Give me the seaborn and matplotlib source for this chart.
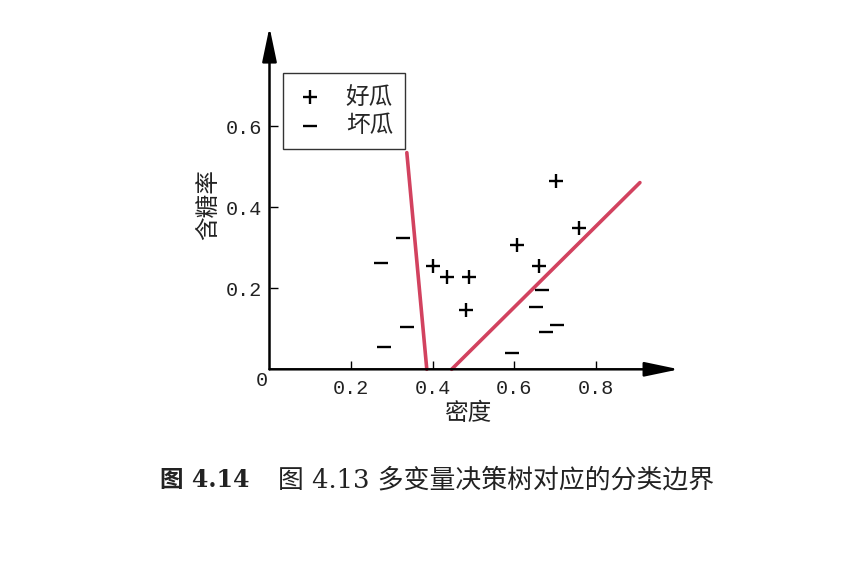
import matplotlib
matplotlib.use("Agg")
import matplotlib.pyplot as plt
from matplotlib.patches import FancyArrowPatch
import numpy as np
import pandas as pd
import seaborn as sns

# Watermelon samples: density (密度) and sugar content (含糖率)
good_density = [0.402, 0.436, 0.490, 0.482, 0.703, 0.760, 0.607, 0.662]
good_sugar = [0.255, 0.227, 0.229, 0.146, 0.465, 0.350, 0.307, 0.256]
bad_density = [0.328, 0.274, 0.337, 0.281, 0.668, 0.653, 0.705, 0.679, 0.594]
bad_sugar = [0.323, 0.263, 0.105, 0.054, 0.196, 0.155, 0.109, 0.093, 0.040]

# Oblique split boundaries of the multivariate tree
boundary1_x = [0.337, 0.386]
boundary1_y = [0.535, 0.0]
boundary2_x = [0.447, 0.909]
boundary2_y = [0.0, 0.461]

xticks = [0.2, 0.4, 0.6, 0.8]
yticks = [0.2, 0.4, 0.6]
labels = ["好瓜", "坏瓜"]

sns.set_style("white")
plt.rcParams["font.family"] = ["Noto Sans CJK SC", "DejaVu Sans"]

W, H = 863, 565
fig = plt.figure(figsize=(W / 100, H / 100), dpi=100)
x0, y0 = 269.5, 369.3
sx, sy = 407.5, 405.0
xmax, ymax = 1.005, 0.845
ax = fig.add_axes([x0 / W, (H - y0) / H, xmax * sx / W, ymax * sy / H])
ax.set_xlim(0, xmax)
ax.set_ylim(0, ymax)
for s in ax.spines.values():
    s.set_visible(False)

boundary_color = "#d2425f"
sns.lineplot(x=boundary1_x, y=boundary1_y, sort=False, ax=ax,
             color=boundary_color, lw=2.6, clip_on=False)
sns.lineplot(x=boundary2_x, y=boundary2_y, sort=False, ax=ax,
             color=boundary_color, lw=2.6, clip_on=False)

sns.scatterplot(x=good_density, y=good_sugar, marker="+", s=110,
                color="black", linewidth=1.7, ax=ax, label=labels[0], zorder=3)
sns.scatterplot(x=bad_density, y=bad_sugar, marker="_", s=110,
                color="black", linewidth=1.7, ax=ax, label=labels[1], zorder=3)

# Axes drawn as arrows
for end in [(1.0, 0.0), (0.0, 1.0)]:
    arr = FancyArrowPatch((0, 0), end, transform=ax.transAxes,
                          arrowstyle="-|>,head_length=21,head_width=4.4",
                          mutation_scale=1, lw=1.8, color="black",
                          shrinkA=0, shrinkB=0, clip_on=False, zorder=4)
    ax.add_patch(arr)

ax.set_xticks(xticks)
ax.set_yticks(yticks)
ax.set_xticklabels([f"{v:.1f}" for v in xticks])
ax.set_yticklabels([f"{v:.1f}" for v in yticks])
ax.tick_params(direction="in", length=6, width=1, colors="black",
               bottom=True, left=True, pad=5)
ax.tick_params(axis="x", pad=7)
for t in ax.get_xticklabels() + ax.get_yticklabels():
    t.set_fontfamily("Liberation Mono")
    t.set_fontsize(14.5)
    t.set_color("#222222")
ax.text(-0.018, -0.028, "0", ha="center", va="center", fontsize=14.5,
        family="Liberation Mono", color="#222222", clip_on=False)

ax.set_xlabel("")
ax.set_ylabel("")
fig.text(468 / W, (H - 413) / H, "密度", ha="center", va="center",
         fontsize=17, color="#222222")
fig.text(208.5 / W, (H - 205) / H, "含糖率", ha="center", va="center",
         rotation=90, fontsize=17, color="#222222")

leg = ax.legend(loc="upper left", bbox_to_anchor=(282.7 / W, (H - 73.3) / H),
                bbox_transform=fig.transFigure, frameon=True, fancybox=False,
                edgecolor="#333333", borderaxespad=0, fontsize=17,
                handlelength=1.3, handletextpad=0.85, borderpad=0.52,
                labelspacing=0.22, framealpha=1)
leg.get_frame().set_linewidth(1.0)

fig.text(160 / W, (H - 480) / H, "图 4.14", ha="left", va="center",
         fontsize=17, fontweight="bold",
         family=["DejaVu Serif", "Noto Sans CJK SC"], color="#222222")
fig.text(278 / W, (H - 480) / H, "图 4.13 多变量决策树对应的分类边界",
         ha="left", va="center", fontsize=18.6,
         family=["DejaVu Serif", "Noto Sans CJK SC"], color="#222222")

fig.savefig("out.png", dpi=100)
